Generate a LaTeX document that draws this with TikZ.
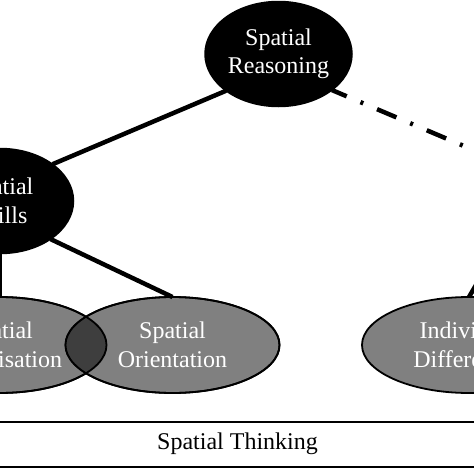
\documentclass[tikz,border=0pt]{standalone}
\usepackage{fontspec}
\setmainfont{Liberation Serif}
\usetikzlibrary{shapes.geometric}
\definecolor{midgrey}{RGB}{128,128,128}
\definecolor{lensgrey}{RGB}{62,62,62}
\begin{document}
\begin{tikzpicture}[x=1pt,y=-1pt,
  lbl/.style={font=\fontsize{24}{28.5}\selectfont, align=center},
  darknode/.style={lbl, ellipse, fill=black, draw=black, line width=1.5pt, text=white,
    inner sep=0pt, outer sep=0pt, minimum width=147pt, minimum height=105pt},
  greynode/.style={lbl, ellipse, fill=midgrey, draw=black, line width=1.8pt, text=white,
    inner sep=0pt, outer sep=0pt, minimum width=214pt, minimum height=96pt},
  link/.style={line width=4.5pt},
  dashdot/.style={line width=4.5pt, dash pattern=on 21pt off 15pt on 3pt off 15pt, dash phase=5pt},
  rule/.style={line width=2.2pt}
]
\useasboundingbox (0,0) rectangle (474,474);
\clip (0,0) rectangle (474,474);

\coordinate (offK) at (504,163);
\coordinate (offK2) at (504,237);

\node[darknode] (reason) at (278.5,54) {Spatial\\Reasoning};
\node[darknode] (skills) at (0,201) {Spatial\\Skills};
\node[greynode] (visual) at (-0.5,345) {Spatial\\Visualisation};
\node[greynode] (orient) at (172.5,345) {Spatial\\Orientation};
\node[greynode] (indiv) at (469,345) {Individual\\Differences};

% overlap lens
\begin{scope}
  \clip (visual.center) ellipse [x radius=107pt, y radius=48pt];
  \fill[lensgrey] (orient.center) ellipse [x radius=107pt, y radius=48pt];
\end{scope}
\draw[line width=1.8pt] (visual.center) ellipse [x radius=107pt, y radius=48pt];
\draw[line width=1.8pt] (orient.center) ellipse [x radius=107pt, y radius=48pt];

\draw[link] (reason.215) -- (skills.35);
\draw[link] (skills.-37) -- (orient.north);
\draw[link] (skills.south) -- (skills.south |- visual.north);
\draw[dashdot] (reason.-34) -- (offK);
\draw[link] (indiv.north) -- (offK2);

% Spatial Thinking band
\coordinate (r1a) at (0,422);
\coordinate (r1b) at (474,422);
\coordinate (r2a) at (0,467);
\coordinate (r2b) at (474,467);
\draw[rule] (r1a) -- (r1b);
\draw[rule] (r2a) -- (r2b);
\node[lbl] (think) at (237.5,444) {Spatial Thinking};
\end{tikzpicture}
\end{document}
